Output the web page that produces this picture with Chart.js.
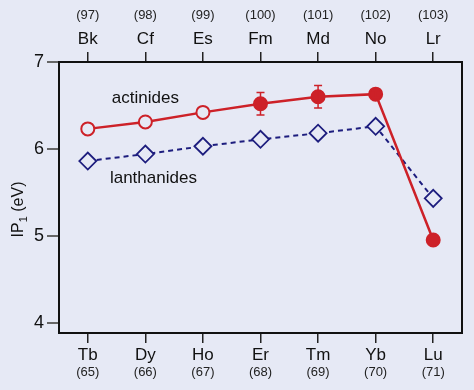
<!DOCTYPE html>
<html>
<head>
<meta charset="utf-8">
<script src="https://cdn.jsdelivr.net/npm/chart.js@4.4.1/dist/chart.umd.min.js"></script>
<style>
  html, body { margin: 0; padding: 0; background: #e6e9f5; }
  #wrap { width: 474px; height: 390px; }
</style>
</head>
<body>
<div id="wrap"><canvas id="myChart" width="474" height="390"></canvas></div>
<script>
// lanthanides along the bottom, actinides along the top
const lanthLabels = ["Tb", "Dy", "Ho", "Er", "Tm", "Yb", "Lu"];
const lanthNumbers = ["(65)", "(66)", "(67)", "(68)", "(69)", "(70)", "(71)"];
const actLabels = ["Bk", "Cf", "Es", "Fm", "Md", "No", "Lr"];
const actNumbers = ["(97)", "(98)", "(99)", "(100)", "(101)", "(102)", "(103)"];

const actinides = [6.23, 6.31, 6.42, 6.52, 6.60, 6.63, 4.95];
const actErrors = [0, 0, 0, 0.13, 0.13, 0.04, 0];
const actFilled = [false, false, false, true, true, true, true];
const lanthanides = [5.86, 5.94, 6.03, 6.11, 6.18, 6.26, 5.43];

const yTicks = [4, 5, 6, 7];

const bg = "#e6e9f5";
const red = "#cd2128";
const navy = "#1d1d7e";
const font = "'Liberation Sans Narrow', 'Liberation Sans', Arial, sans-serif";

// frame, error bars, numbers in parentheses, annotations, y title
const extras = {
  id: "extras",
  afterDatasetsDraw(chart) {
    const ctx = chart.ctx;
    const x = chart.scales.x;
    const y = chart.scales.y;
    ctx.save();
    ctx.strokeStyle = red;
    ctx.lineWidth = 1.5;
    actinides.forEach((v, i) => {
      if (!actErrors[i]) return;
      const px = x.getPixelForValue(i);
      const y1 = y.getPixelForValue(v + actErrors[i]);
      const y2 = y.getPixelForValue(v - actErrors[i]);
      ctx.beginPath();
      ctx.moveTo(px, y1); ctx.lineTo(px, y2);
      ctx.moveTo(px - 4, y1); ctx.lineTo(px + 4, y1);
      ctx.moveTo(px - 4, y2); ctx.lineTo(px + 4, y2);
      ctx.stroke();
    });
    ctx.restore();
  },
  afterDraw(chart) {
    const ctx = chart.ctx;
    const a = chart.chartArea;
    const x = chart.scales.x;
    const y = chart.scales.y;
    ctx.save();
    ctx.strokeStyle = "#111";
    ctx.lineWidth = 2;
    ctx.strokeRect(a.left, a.top, a.right - a.left, a.bottom - a.top);

    ctx.fillStyle = "#222";
    ctx.font = "13px " + font;
    ctx.textAlign = "center";
    ctx.textBaseline = "middle";
    lanthNumbers.forEach((t, i) => {
      ctx.fillText(t, x.getPixelForValue(i), a.bottom + 39);
    });
    actNumbers.forEach((t, i) => {
      ctx.fillText(t, x.getPixelForValue(i), a.top - 47);
    });

    ctx.fillStyle = "#111";
    ctx.font = "17px " + font;
    ctx.fillText("actinides", x.getPixelForValue(1), y.getPixelForValue(6.58));
    ctx.fillText("lanthanides", x.getPixelForValue(1.14), y.getPixelForValue(5.66));

    // y title with subscript
    ctx.translate(19, (a.top + a.bottom) / 2 + 12);
    ctx.rotate(-Math.PI / 2);
    ctx.textAlign = "left";
    ctx.font = "16px " + font;
    const w1 = ctx.measureText("IP").width;
    ctx.font = "11px " + font;
    const w2 = ctx.measureText("1").width;
    ctx.font = "16px " + font;
    const w3 = ctx.measureText(" (eV)").width;
    let sx = -(w1 + w2 + w3) / 2;
    ctx.fillText("IP", sx, 0);
    ctx.font = "11px " + font;
    ctx.fillText("1", sx + w1, 5);
    ctx.font = "16px " + font;
    ctx.fillText(" (eV)", sx + w1 + w2, 0);
    ctx.restore();
  }
};

new Chart(document.getElementById("myChart"), {
  type: "line",
  data: {
    labels: lanthLabels,
    datasets: [
      {
        label: "actinides",
        data: actinides,
        borderColor: red,
        borderWidth: 2.5,
        pointStyle: "circle",
        pointRadius: 6.5,
        pointBorderWidth: 2,
        pointBorderColor: red,
        pointBackgroundColor: actFilled.map((f) => f ? red : bg),
        fill: false,
        tension: 0
      },
      {
        label: "lanthanides",
        data: lanthanides,
        borderColor: navy,
        borderWidth: 2,
        borderDash: [5, 4],
        pointStyle: "rectRot",
        pointRadius: 8.5,
        pointBorderWidth: 1.8,
        pointBorderColor: navy,
        pointBackgroundColor: bg,
        fill: false,
        tension: 0
      }
    ]
  },
  options: {
    responsive: false,
    animation: false,
    layout: { padding: { left: 0, right: 12, top: 0, bottom: 0 } },
    plugins: { legend: { display: false }, tooltip: { enabled: false } },
    scales: {
      x: {
        type: "category",
        position: "bottom",
        offset: true,
        grid: { display: true, drawOnChartArea: false, drawTicks: true, tickLength: 10, color: "#222", lineWidth: 1.5, offset: false },
        border: { display: false },
        ticks: { color: "#111", font: { family: font, size: 17 }, padding: 2, maxRotation: 0 },
        afterFit: (s) => { s.height = 57; }
      },
      x2: {
        type: "category",
        position: "top",
        offset: true,
        labels: actLabels,
        grid: { display: true, drawOnChartArea: false, drawTicks: true, tickLength: 10, color: "#222", lineWidth: 1.5, offset: false },
        border: { display: false },
        ticks: { color: "#111", font: { family: font, size: 17 }, padding: 2, maxRotation: 0 },
        afterFit: (s) => { s.height = 62; }
      },
      y: {
        min: 3.88,
        max: 7,
        afterBuildTicks: (s) => { s.ticks = yTicks.map((v) => ({ value: v })); },
        grid: { display: true, drawOnChartArea: false, drawTicks: true, tickLength: 12, color: "#666", lineWidth: 2 },
        border: { display: false },
        ticks: { color: "#111", font: { family: font, size: 18 }, padding: 3 },
        afterFit: (s) => { s.width = 59; }
      }
    }
  },
  plugins: [extras]
});
</script>
</body>
</html>
